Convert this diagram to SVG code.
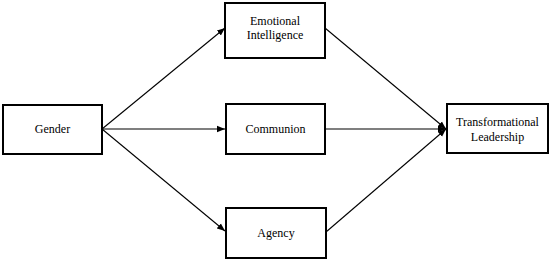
<svg xmlns="http://www.w3.org/2000/svg" width="550" height="262" viewBox="0 0 550 262">
<style>
.box{fill:#fff;stroke:#000;stroke-width:2}
.lbl{font-family:"Liberation Serif","Times New Roman",serif;font-size:12px;fill:#000;text-anchor:middle}
.edge{stroke:#000;stroke-width:1.1;fill:none;marker-end:url(#ah)}
</style>
<defs>
<marker id="ah" viewBox="0 0 10 10" refX="10" refY="5" markerWidth="8" markerHeight="8" markerUnits="userSpaceOnUse" orient="auto">
<path d="M0,1 L10,5 L0,9 z" fill="#000"/>
</marker>
</defs>
<rect width="550" height="262" fill="#fff"/>
<g id="connectors">
<line class="edge" x1="102" y1="129" x2="225" y2="28"/>
<line class="edge" x1="102" y1="129" x2="225" y2="129"/>
<line class="edge" x1="102" y1="129" x2="225" y2="231"/>
<line class="edge" x1="325" y1="28" x2="446" y2="129"/>
<line class="edge" x1="325" y1="129" x2="446" y2="129"/>
<line class="edge" x1="326" y1="232" x2="446" y2="129"/>
</g>
<g id="gender">
<rect class="box" x="3" y="105" width="99" height="49"/>
<text class="lbl" x="52.5" y="133">Gender</text>
</g>
<g id="emotional-intelligence">
<rect class="box" x="225" y="3" width="100" height="55"/>
<text class="lbl" x="275" y="25">Emotional</text>
<text class="lbl" x="275" y="39">Intelligence</text>
</g>
<g id="communion">
<rect class="box" x="226" y="104" width="99" height="50"/>
<text class="lbl" x="275.5" y="133">Communion</text>
</g>
<g id="agency">
<rect class="box" x="226" y="208" width="100" height="50"/>
<text class="lbl" x="276" y="237">Agency</text>
</g>
<g id="transformational-leadership">
<rect class="box" x="447" y="104" width="101" height="49"/>
<text class="lbl" x="497.5" y="126">Transformational</text>
<text class="lbl" x="497.5" y="141">Leadership</text>
</g>
</svg>
